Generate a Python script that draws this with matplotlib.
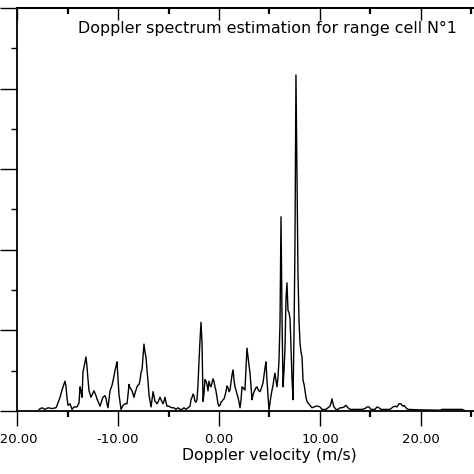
import matplotlib
matplotlib.use("Agg")
import matplotlib.pyplot as plt
from matplotlib.ticker import MultipleLocator, FixedLocator, FormatStrFormatter, NullFormatter

velocity = [
    -17.82, -17.52, -17.23, -16.93, -16.53, -16.14, -15.94, -15.74, -15.54, -15.35,
    -15.25, -15.15, -15.05, -14.95, -14.75, -14.55, -14.36, -14.06, -13.86, -13.76,
    -13.66, -13.56, -13.47, -13.27, -13.17, -13.07, -12.97, -12.87, -12.67, -12.57,
    -12.38, -12.18, -12.08, -11.88, -11.78, -11.58, -11.49, -11.29, -11.19, -11.09,
    -10.99, -10.79, -10.59, -10.50, -10.40, -10.30, -10.20, -10.10, -10.00, -9.90,
    -9.70, -9.50, -9.31, -9.11, -9.01, -8.91, -8.81, -8.61, -8.51, -8.42,
    -8.32, -8.12, -8.02, -7.92, -7.82, -7.72, -7.62, -7.52, -7.43, -7.33,
    -7.23, -7.13, -7.03, -6.93, -6.73, -6.63, -6.53, -6.44, -6.34, -6.24,
    -6.14, -6.04, -5.84, -5.74, -5.54, -5.45, -5.35, -5.25, -5.15, -4.95,
    -4.85, -4.65, -4.46, -4.26, -4.06, -3.86, -3.66, -3.47, -3.27, -3.07,
    -2.87, -2.77, -2.67, -2.57, -2.48, -2.38, -2.28, -2.18, -2.08, -1.98,
    -1.88, -1.78, -1.68, -1.58, -1.49, -1.39, -1.29, -1.19, -1.09, -0.99,
    -0.89, -0.79, -0.69, -0.59, -0.50, -0.40, -0.30, -0.20, -0.10, 0.00,
    0.10, 0.20, 0.30, 0.40, 0.50, 0.59, 0.69, 0.79, 0.89, 0.99,
    1.09, 1.19, 1.29, 1.39, 1.49, 1.58, 1.68, 1.78, 1.88, 1.98,
    2.08, 2.18, 2.28, 2.38, 2.48, 2.57, 2.67, 2.77, 2.87, 2.97,
    3.07, 3.17, 3.27, 3.37, 3.47, 3.56, 3.66, 3.76, 3.86, 3.96,
    4.06, 4.16, 4.26, 4.36, 4.46, 4.55, 4.65, 4.75, 4.85, 4.95,
    5.05, 5.15, 5.25, 5.35, 5.45, 5.54, 5.64, 5.74, 5.84, 5.94,
    6.04, 6.14, 6.24, 6.34, 6.44, 6.53, 6.63, 6.73, 6.83, 6.93,
    7.03, 7.13, 7.23, 7.33, 7.43, 7.52, 7.62, 7.72, 7.82, 7.92,
    8.02, 8.12, 8.22, 8.32, 8.42, 8.51, 8.61, 8.71, 8.81, 9.01,
    9.21, 9.41, 9.60, 9.80, 10.00, 10.20, 10.40, 10.59, 10.79, 10.99,
    11.09, 11.19, 11.29, 11.39, 11.58, 11.78, 11.98, 12.18, 12.38, 12.57,
    12.77, 12.97, 13.37, 13.76, 14.16, 14.46, 14.65, 14.85, 15.05, 15.45,
    15.64, 15.84, 16.04, 16.93, 17.23, 17.43, 17.62, 17.82, 18.02, 18.12,
    18.22, 18.32, 18.51, 18.71, 19.60, 21.88, 22.08, 24.06, 24.26,
]

amplitude = [
    0.02, 0.04, 0.02, 0.04, 0.03, 0.04, 0.10, 0.17, 0.26, 0.33,
    0.37, 0.31, 0.16, 0.07, 0.09, 0.02, 0.05, 0.05, 0.10, 0.30,
    0.24, 0.17, 0.48, 0.61, 0.67, 0.55, 0.39, 0.25, 0.17, 0.20,
    0.25, 0.19, 0.15, 0.09, 0.06, 0.14, 0.17, 0.19, 0.16, 0.09,
    0.04, 0.25, 0.32, 0.37, 0.43, 0.50, 0.55, 0.61, 0.40, 0.20,
    0.02, 0.07, 0.09, 0.09, 0.20, 0.33, 0.29, 0.25, 0.21, 0.17,
    0.22, 0.30, 0.32, 0.33, 0.38, 0.48, 0.51, 0.68, 0.83, 0.73,
    0.67, 0.51, 0.37, 0.20, 0.05, 0.14, 0.24, 0.19, 0.12, 0.11,
    0.09, 0.11, 0.17, 0.14, 0.09, 0.12, 0.17, 0.11, 0.06, 0.06,
    0.05, 0.04, 0.04, 0.02, 0.04, 0.02, 0.02, 0.04, 0.02, 0.04,
    0.06, 0.14, 0.17, 0.21, 0.19, 0.12, 0.11, 0.14, 0.32, 0.62,
    0.88, 1.10, 0.83, 0.12, 0.21, 0.39, 0.37, 0.33, 0.25, 0.37,
    0.32, 0.30, 0.35, 0.40, 0.37, 0.30, 0.25, 0.17, 0.09, 0.06,
    0.07, 0.11, 0.12, 0.14, 0.15, 0.19, 0.24, 0.31, 0.29, 0.24,
    0.26, 0.36, 0.45, 0.51, 0.38, 0.30, 0.26, 0.21, 0.17, 0.11,
    0.04, 0.14, 0.30, 0.29, 0.27, 0.26, 0.51, 0.78, 0.67, 0.57,
    0.47, 0.30, 0.14, 0.20, 0.24, 0.26, 0.29, 0.30, 0.27, 0.25,
    0.24, 0.27, 0.31, 0.35, 0.45, 0.53, 0.61, 0.38, 0.19, 0.01,
    0.10, 0.19, 0.26, 0.32, 0.41, 0.47, 0.38, 0.30, 0.42, 0.63,
    1.09, 2.41, 1.15, 0.30, 0.51, 0.76, 1.38, 1.59, 1.25, 1.22,
    1.15, 0.79, 0.39, 0.14, 1.00, 2.04, 4.17, 2.87, 1.71, 1.13,
    0.84, 0.73, 0.67, 0.38, 0.33, 0.26, 0.17, 0.12, 0.10, 0.07,
    0.04, 0.05, 0.06, 0.06, 0.05, 0.02, 0.02, 0.02, 0.04, 0.06,
    0.10, 0.15, 0.09, 0.05, 0.02, 0.02, 0.04, 0.04, 0.05, 0.07,
    0.04, 0.02, 0.02, 0.02, 0.02, 0.03, 0.05, 0.05, 0.02, 0.02,
    0.05, 0.04, 0.02, 0.02, 0.05, 0.06, 0.05, 0.09, 0.09, 0.07,
    0.06, 0.07, 0.04, 0.02, 0.015, 0.01, 0.02, 0.02, 0.01,
]

x_major_ticks = [-20, -10, 0, 10, 20]
title_text = "Doppler spectrum estimation for range cell N°1"
x_label = "Doppler velocity (m/s)"

W = 474
fig = plt.figure(figsize=(4.74, 4.74), dpi=100)
ax = fig.add_axes([17 / W, 63 / W, 505 / W, 403 / W])
ax.plot(velocity, amplitude, color="black", linewidth=1.0)

ax.set_xlim(-20, 30)
ax.set_ylim(0, 5)

for s in ["left", "bottom", "top"]:
    ax.spines[s].set_linewidth(1.3)
    ax.spines[s].set_color("black")
ax.spines["right"].set_visible(False)

ax.xaxis.set_major_locator(FixedLocator(x_major_ticks))
ax.xaxis.set_minor_locator(MultipleLocator(5))
ax.xaxis.set_major_formatter(FormatStrFormatter("%.2f"))
ax.yaxis.set_major_locator(MultipleLocator(1))
ax.yaxis.set_minor_locator(MultipleLocator(0.5))
ax.yaxis.set_major_formatter(NullFormatter())

ax.tick_params(axis="x", which="major", direction="out", length=10.5, width=1.0,
               labelsize=9.5, pad=5, top=False)
ax.tick_params(axis="x", which="minor", direction="out", length=4.5, width=1.6, top=False)
ax.tick_params(axis="y", which="major", direction="out", length=12, width=1.0, right=False)
ax.tick_params(axis="y", which="minor", direction="out", length=4.5, width=1.0, right=False)

sec = ax.secondary_xaxis("top")
sec.xaxis.set_major_locator(MultipleLocator(10))
sec.xaxis.set_minor_locator(MultipleLocator(5))
sec.xaxis.set_major_formatter(NullFormatter())
sec.tick_params(axis="x", which="major", direction="in", length=8.5, width=1.0)
sec.tick_params(axis="x", which="minor", direction="in", length=4.5, width=1.6)
sec.spines["top"].set_linewidth(1.3)

ax.set_xlabel(x_label, fontsize=11.3, labelpad=2)
ax.text(0.495, 0.948, title_text, transform=ax.transAxes, ha="center", va="center",
        fontsize=11.4)

fig.savefig("out.png", dpi=100)
